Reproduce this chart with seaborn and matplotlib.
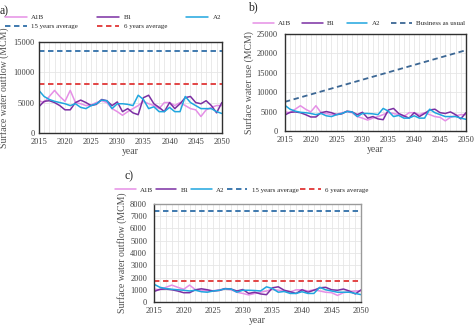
import matplotlib
matplotlib.use("Agg")
import matplotlib.pyplot as plt
import seaborn as sns
import numpy as np

sns.set_theme(style="white")
plt.rcParams['font.family'] = ['Liberation Serif', 'DejaVu Serif']

years = list(range(2015, 2051))

# Panel a: surface water outflow (MCM)
a_A1B = [5300,5000,6000,7000,6000,5200,7000,5000,4800,4500,4600,5000,5300,5000,4000,3500,2900,3500,
         4000,4500,5200,4800,4500,4000,5000,5000,4500,5000,4500,4000,3800,2700,3800,4200,4500,4500]
a_B1 = [4300,5200,5300,5000,4500,3800,3800,5000,5400,5000,4500,4700,5500,5300,4500,5100,3500,4000,
        3300,3000,5800,6200,4800,4200,3500,5000,4000,4800,5800,6000,5000,4800,5300,4500,3300,5000]
a_A2 = [7000,6000,5500,5200,5000,4800,4500,4800,4200,4000,4500,4800,5400,5300,4000,4800,4800,4700,
        4500,6200,5500,4000,4300,3500,3500,4200,3500,3500,6000,5000,4500,4000,4000,4000,3500,3200]
a_avg15 = 13500
a_avg6 = 8100

# Panel b: surface water use (MCM)
b_A1B = [4900,4700,5600,6500,5600,4900,6500,4700,4500,4200,4300,4700,4900,4700,3700,3300,2800,3300,
         3700,4200,4800,4500,4200,3700,4700,4700,4200,4700,4200,3700,3500,2600,3500,3900,4200,4200]
b_B1 = [4100,4800,4900,4700,4200,3600,3600,4700,5000,4700,4200,4400,5100,4900,4200,4800,3300,3700,
        3100,2900,5400,5800,4500,3900,3300,4700,3700,4500,5400,5600,4700,4500,4900,4200,3100,4700]
b_A2 = [6600,5600,5100,4800,4700,4500,4200,4500,3900,3700,4200,4500,5000,4900,3700,4500,4500,4400,
        4200,5800,5100,3700,4000,3300,3300,3900,3300,3300,5600,4700,4200,3700,3700,3700,3300,3000]
bau_years = [2015, 2020, 2025, 2030, 2035, 2040, 2045, 2050]
bau_vals = [7500, 9400, 11300, 13200, 15100, 17000, 18900, 20800]

# Panel c: surface water outflow (MCM)
c_A1B = [1050,1000,1200,1380,1200,1040,1380,1000,960,900,920,1000,1060,1000,800,700,580,700,
         800,900,1040,960,900,800,1000,1000,900,1000,900,800,760,540,760,840,900,900]
c_B1 = [860,1040,1060,1000,900,760,760,1000,1080,1000,900,940,1100,1060,900,1020,700,800,
        660,600,1160,1240,960,840,700,1000,800,960,1160,1200,1000,960,1060,900,660,1000]
c_A2 = [1450,1200,1100,1040,1000,960,900,960,840,800,900,960,1080,1060,800,960,960,940,
        900,1240,1100,800,860,700,700,840,700,700,1200,1000,900,800,800,800,700,600]
c_avg15 = 7400
c_avg6 = 1700

xticks = [2015, 2020, 2025, 2030, 2035, 2040, 2045, 2050]

C_A1B = "#e58fe6"
C_B1 = "#7b2fa3"
C_A2 = "#1fa6df"
C_15 = "#2f6ea8"
C_6 = "#e03636"
C_BAU = "#3c6794"

fig = plt.figure(figsize=(4.74, 3.29), dpi=100)
axa = fig.add_axes([0.082, 0.596, 0.386, 0.277])
axb = fig.add_axes([0.601, 0.602, 0.382, 0.295])
axc = fig.add_axes([0.325, 0.082, 0.437, 0.298])

def series(ax, a1b, b1, a2):
    sns.lineplot(x=years, y=a1b, color=C_A1B, lw=1.1, ax=ax, label="A1B")
    sns.lineplot(x=years, y=b1, color=C_B1, lw=1.1, ax=ax, label="B1")
    sns.lineplot(x=years, y=a2, color=C_A2, lw=1.1, ax=ax, label="A2")

def avgline(ax, val, color, label):
    sns.lineplot(x=[years[0], years[-1]], y=[val, val], color=color, lw=1.3,
                 ax=ax, label=label, linestyle=(0, (3, 2)))

def style(ax, ymax, ystep, ylabel, ypad=5):
    ax.set_xlim(2015, 2050)
    ax.set_ylim(0, ymax)
    ax.set_xticks(xticks)
    ax.set_xticks(years, minor=True)
    ax.set_yticks(np.arange(0, ymax + 1, ystep))
    ax.grid(True, which='both', axis='x', color='#e6e6e6', lw=0.6)
    ax.grid(True, which='major', axis='y', color='#e6e6e6', lw=0.6)
    ax.set_axisbelow(True)
    ax.tick_params(axis='both', which='both', length=0, labelsize=6,
                   labelcolor='#404040')
    ax.tick_params(axis='x', pad=3.5)
    ax.tick_params(axis='y', pad=ypad)
    ax.set_xlabel("year", fontsize=7, color='#505050', labelpad=1)
    ax.set_ylabel(ylabel, fontsize=7, color='#505050', labelpad=2)
    for s in ax.spines.values():
        s.set_color('#303030')
        s.set_linewidth(1.0)

# Panel a
series(axa, a_A1B, a_B1, a_A2)
avgline(axa, a_avg15, C_15, "15 years average")
avgline(axa, a_avg6, C_6, "6 years average")
style(axa, 15000, 5000, "Surface water outflow (MCM)", ypad=3)
axa.yaxis.set_label_coords(-0.165, 0.5)
h, l = axa.get_legend_handles_labels()
d = dict(zip(l, h))
order = ["A1B", "15 years average", "B1", "6 years average", "A2"]
axa.legend([d[k] for k in order], order, ncol=3, loc='lower left',
           bbox_to_anchor=(-0.19, 1.13, 1.19, 0.2), mode='expand',
           frameon=False, fontsize=5, handlelength=3.2, handletextpad=0.6,
           labelspacing=0.45, borderaxespad=0, borderpad=0.1)
fig.text(0.0, 0.985, "a)", fontsize=8.5, va='top', ha='left')

# Panel b
series(axb, b_A1B, b_B1, b_A2)
sns.lineplot(x=bau_years, y=bau_vals, color=C_BAU, lw=1.3, ax=axb,
             label="Business as usual", linestyle=(0, (3, 2)))
style(axb, 25000, 5000, "Surface water use (MCM)")
axb.legend(ncol=4, loc='lower left', bbox_to_anchor=(-0.18, 1.07, 1.18, 0.1),
           mode='expand', frameon=False, fontsize=5, handlelength=3.0,
           handletextpad=0.6, borderaxespad=0, borderpad=0.1, columnspacing=0.8)
fig.text(0.523, 0.995, "b)", fontsize=8.5, va='top', ha='left')

# Panel c
series(axc, c_A1B, c_B1, c_A2)
avgline(axc, c_avg15, C_15, "15 years average")
avgline(axc, c_avg6, C_6, "6 years average")
style(axc, 8000, 1000, "Surface water outflow (MCM)")
axc.spines['top'].set_color('#9a9a9a')
axc.spines['right'].set_color('#9a9a9a')
axc.legend(ncol=5, loc='lower left', bbox_to_anchor=(-0.19, 1.11, 1.23, 0.08),
           mode='expand', frameon=False, fontsize=5, handlelength=3.0,
           handletextpad=0.6, borderaxespad=0, borderpad=0.1, columnspacing=0.8)
fig.text(0.262, 0.483, "c)", fontsize=8.5, va='top', ha='left')

fig.savefig("out.png", dpi=100)
